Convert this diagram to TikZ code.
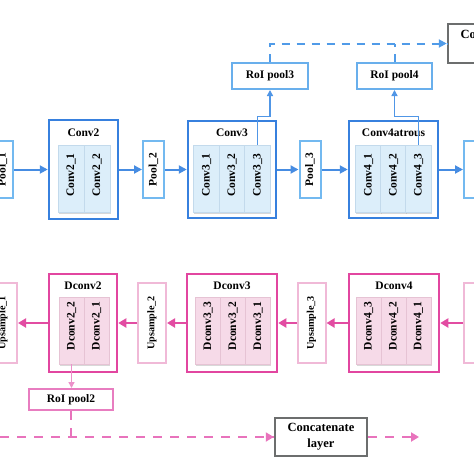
\documentclass[tikz,border=0pt]{standalone}
\usepackage{fontspec}
\setmainfont{Liberation Serif}
\usetikzlibrary{arrows.meta,shadows}
\definecolor{bOuter}{RGB}{55,128,222}
\definecolor{bPool}{RGB}{115,185,240}
\definecolor{bRoi}{RGB}{105,175,236}
\definecolor{bCell}{RGB}{220,238,250}
\definecolor{bCellLine}{RGB}{195,218,236}
\definecolor{bArrow}{RGB}{70,140,226}
\definecolor{bThin}{RGB}{80,150,230}
\definecolor{bDash}{RGB}{80,155,232}
\definecolor{pOuter}{RGB}{226,70,160}
\definecolor{pUp}{RGB}{240,185,215}
\definecolor{pRoi}{RGB}{232,125,192}
\definecolor{pCell}{RGB}{246,218,232}
\definecolor{pCellLine}{RGB}{230,195,212}
\definecolor{pArrow}{RGB}{226,76,162}
\definecolor{pThin}{RGB}{236,145,202}
\definecolor{pDash}{RGB}{232,115,188}
\definecolor{gBox}{RGB}{108,110,110}
\begin{document}
\begin{tikzpicture}[x=1pt,y=-1pt,
  txt/.style={font=\fontsize{11.5}{13}\selectfont\bfseries, inner sep=0pt},
  vtxt/.style={txt, rotate=90},
  utxt/.style={font=\fontsize{10.2}{12}\selectfont\bfseries, inner sep=0pt, rotate=90},
  outerb/.style={draw=bOuter, line width=2.5pt, fill=white, inner sep=0pt},
  poolb/.style={draw=bPool, line width=2pt, fill=white, inner sep=0pt, minimum width=21pt, minimum height=57pt},
  roib/.style={draw=bRoi, line width=2pt, fill=white, inner sep=0pt, minimum height=26pt, font=\fontsize{11.5}{13}\selectfont\bfseries},
  bcell/.style={fill=bCell, draw=bCellLine, line width=0.6pt, inner sep=0pt, minimum width=25.5pt, minimum height=67pt,
    drop shadow={shadow xshift=0.6pt, shadow yshift=-1.6pt, fill=black!30, opacity=0.5}},
  pouter/.style={draw=pOuter, line width=2.5pt, fill=white, inner sep=0pt},
  upb/.style={draw=pUp, line width=2pt, fill=white, inner sep=0pt, minimum width=28pt, minimum height=80pt},
  proib/.style={draw=pRoi, line width=2pt, fill=white, inner sep=0pt, minimum height=21pt, font=\fontsize{11.5}{13}\selectfont\bfseries},
  pcell/.style={fill=pCell, draw=pCellLine, line width=0.6pt, inner sep=0pt, minimum width=25pt, minimum height=67pt,
    drop shadow={shadow xshift=0.6pt, shadow yshift=-1.6pt, fill=black!30, opacity=0.5}},
  barrow/.style={draw=bArrow, line width=2pt, -{Triangle[length=8pt,width=8pt]}},
  bthin/.style={draw=bThin, line width=1.4pt, -{Triangle[length=6pt,width=6pt]}},
  bdash/.style={draw=bDash, line width=2pt, dash pattern=on 8pt off 7pt},
  parrow/.style={draw=pArrow, line width=2pt, -{Triangle[length=8pt,width=9pt]}},
  pthin/.style={draw=pThin, line width=1.4pt, -{Triangle[length=6pt,width=6pt]}},
  pdash/.style={draw=pDash, line width=2pt, dash pattern=on 9pt off 8pt},
  concatb/.style={draw=gBox, line width=2.5pt, fill=white, align=center, inner sep=0pt,
    minimum width=92pt, font=\fontsize{12.5}{16}\selectfont\bfseries}
]
\useasboundingbox (0,0) rectangle (474,474);
\fill[white] (0,0) rectangle (474,474);
\clip (0,0) rectangle (474,474);

% ---------------- top (blue) row ----------------
\node[poolb] (pool1) at (2.5,169.5) {};
\node[vtxt] (pool1t) at (pool1.center) {Pool\_1};

\node[outerb, minimum width=69pt, minimum height=99pt] (conv2) at (83.5,169.5) {};
\node[txt] (conv2t) at (83.5,133) {Conv2};
\node[bcell, minimum width=26pt] (c21) at (71,178.5) {};
\node[bcell, minimum width=26pt] (c22) at (97,178.5) {};
\node[vtxt] (c21t) at (71,175) {Conv2\_1};
\node[vtxt] (c22t) at (97,175) {Conv2\_2};

\node[poolb] (pool2) at (153.5,169.5) {};
\node[vtxt] (pool2t) at (pool2.center) {Pool\_2};

\node[outerb, minimum width=88pt, minimum height=97pt] (conv3) at (232,169.5) {};
\node[txt] (conv3t) at (232,133) {Conv3};
\node[bcell] (c31) at (206.5,178.5) {};
\node[bcell] (c32) at (232,178.5) {};
\node[bcell] (c33) at (257.5,178.5) {};
\node[vtxt] (c31t) at (206.5,175) {Conv3\_1};
\node[vtxt] (c32t) at (232,175) {Conv3\_2};
\node[vtxt] (c33t) at (257.5,175) {Conv3\_3};

\node[poolb] (pool3) at (310,169.5) {};
\node[vtxt] (pool3t) at (pool3.center) {Pool\_3};

\node[outerb, minimum width=89pt, minimum height=97pt] (conv4) at (393.5,169.5) {};
\node[txt] (conv4t) at (393.5,133) {Conv4atrous};
\node[bcell] (c41) at (368.5,178.5) {};
\node[bcell] (c42) at (393.5,178.5) {};
\node[bcell] (c43) at (418.5,178.5) {};
\node[vtxt] (c41t) at (368.5,175) {Conv4\_1};
\node[vtxt] (c42t) at (393.5,175) {Conv4\_2};
\node[vtxt] (c43t) at (418.5,175) {Conv4\_3};

\node[poolb, minimum width=28pt] (pool4) at (478,169.5) {};
\node[vtxt] (pool4t) at (479.5,169.5) {Pool\_4};

\node[roib, minimum width=76pt] (roi3) at (270,76) {RoI pool3};
\node[roib, minimum width=75pt] (roi4) at (394.5,76) {RoI pool4};
\node[concatb, minimum height=39pt] (cat1) at (494,43.5) {Concatenate\\layer};

\draw[barrow] (pool1.east) -- (conv2.west);
\draw[barrow] (conv2.east) -- (pool2.west);
\draw[barrow] (pool2.east) -- (conv3.west);
\draw[barrow] (conv3.east) -- (pool3.west);
\draw[barrow] (pool3.east) -- (conv4.west);
\draw[barrow] (conv4.east) -- (pool4.west);

\draw[bthin] (c33.north) -- ++(0,-28) -| (roi3.south);
\draw[bthin] (c43.north) -- ++(0,-28) -| (roi4.south);

\draw[bdash] (roi3.north) |- (cat1.west);
\draw[draw=bDash, line width=2pt, -{Triangle[length=8pt,width=8pt]}] ([xshift=-8pt]cat1.west) -- (cat1.west);
\draw[bdash] (roi4.north) -- (roi4.north |- cat1.west);

% ---------------- bottom (pink) row ----------------
\node[upb] (up1) at (3,323) {};
\node[utxt] (up1t) at (up1.center) {Upsample\_1};

\node[pouter, minimum width=68pt, minimum height=98pt] (dconv2) at (83,323) {};
\node[txt] (dconv2t) at (83,286) {Dconv2};
\node[pcell] (d22) at (71.5,330.5) {};
\node[pcell] (d21) at (96.5,330.5) {};
\node[vtxt] (d22t) at (71.5,326) {Dconv2\_2};
\node[vtxt] (d21t) at (96.5,326) {Dconv2\_1};

\node[upb] (up2) at (152,323) {};
\node[utxt] (up2t) at (up2.center) {Upsample\_2};

\node[pouter, minimum width=90pt, minimum height=98pt] (dconv3) at (232,323) {};
\node[txt] (dconv3t) at (232,286) {Dconv3};
\node[pcell] (d33) at (208,330.5) {};
\node[pcell] (d32) at (233,330.5) {};
\node[pcell] (d31) at (258,330.5) {};
\node[vtxt] (d33t) at (208,326) {Dconv3\_3};
\node[vtxt] (d32t) at (233,326) {Dconv3\_2};
\node[vtxt] (d31t) at (258,326) {Dconv3\_1};

\node[upb] (up3) at (311.5,323) {};
\node[utxt] (up3t) at (up3.center) {Upsample\_3};

\node[pouter, minimum width=90pt, minimum height=98pt] (dconv4) at (394,323) {};
\node[txt] (dconv4t) at (394,286) {Dconv4};
\node[pcell] (d43) at (368.5,330.5) {};
\node[pcell] (d42) at (393.5,330.5) {};
\node[pcell] (d41) at (418.5,330.5) {};
\node[vtxt] (d43t) at (368.5,326) {Dconv4\_3};
\node[vtxt] (d42t) at (393.5,326) {Dconv4\_2};
\node[vtxt] (d41t) at (418.5,326) {Dconv4\_1};

\node[upb] (up4) at (478,323) {};
\node[utxt] (up4t) at (481.5,323) {Upsample\_4};

\node[proib, minimum width=84pt] (roi2) at (71,399.5) {RoI pool2};
\node[concatb, minimum height=38pt] (cat2) at (321,437) {Concatenate\\layer};

\draw[parrow] (dconv2.west) -- (up1.east);
\draw[parrow] (up2.west) -- (dconv2.east);
\draw[parrow] (dconv3.west) -- (up2.east);
\draw[parrow] (up3.west) -- (dconv3.east);
\draw[parrow] (dconv4.west) -- (up3.east);
\draw[parrow] (up4.west) -- (dconv4.east);

\draw[pthin] (d22.south) -- (d22.south |- roi2.north);
\draw[pdash] (roi2.south) -- (roi2.south |- cat2.west);
\coordinate (pl) at (0,437);
\coordinate (pr) at (419,437);
\draw[pdash] (pl) -- (cat2.west);
\draw[draw=pDash, line width=2pt, -{Triangle[length=8pt,width=9pt]}] ([xshift=-8pt]cat2.west) -- (cat2.west);
\draw[pdash] (cat2.east) -- (pr);
\draw[draw=pDash, line width=2pt, -{Triangle[length=8pt,width=9pt]}] ([xshift=-8pt]pr) -- (pr);
\end{tikzpicture}
\end{document}
